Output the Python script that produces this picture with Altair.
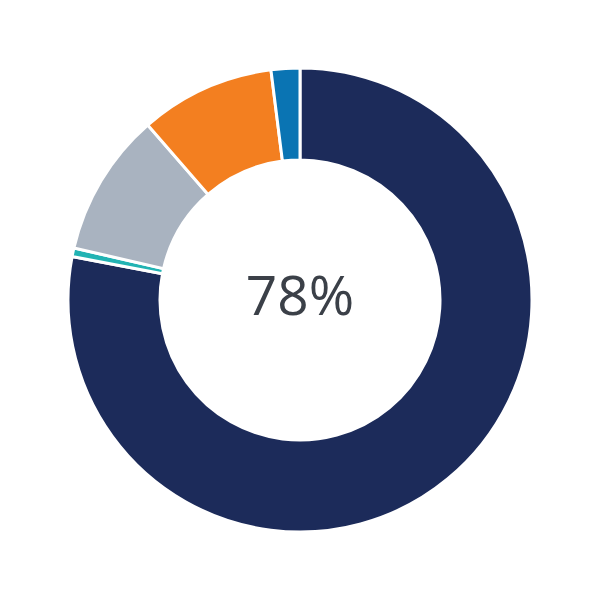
import altair as alt
import pandas as pd

categories = ["A", "B", "C", "D", "E"]
values = [78.0, 0.6, 10.0, 9.4, 2.0]
colors = ["#1c2b5a", "#22b3b3", "#a9b3c0", "#f37f20", "#0a74b3"]
center_label = ["78%"]

df = pd.DataFrame({"cat": categories, "value": values, "order": list(range(len(categories)))})

arc = alt.Chart(df).mark_arc(outerRadius=232, innerRadius=140, stroke="white", strokeWidth=3).encode(
    theta=alt.Theta("value:Q", stack=True),
    color=alt.Color("cat:N", scale=alt.Scale(domain=categories, range=colors), legend=None),
    order=alt.Order("order:Q"),
)

text = alt.Chart(pd.DataFrame({"t": center_label})).mark_text(
    fontSize=55, font="Open Sans", color="#3b4048", baseline="middle", align="center", dy=-2
).encode(text="t:N")

chart = alt.layer(arc, text).properties(
    width=584, height=584, padding=0, autosize=alt.AutoSizeParams(type="none")
).configure_view(stroke=None)

chart.save("out.html", embed_options={"renderer": "svg", "actions": False})
